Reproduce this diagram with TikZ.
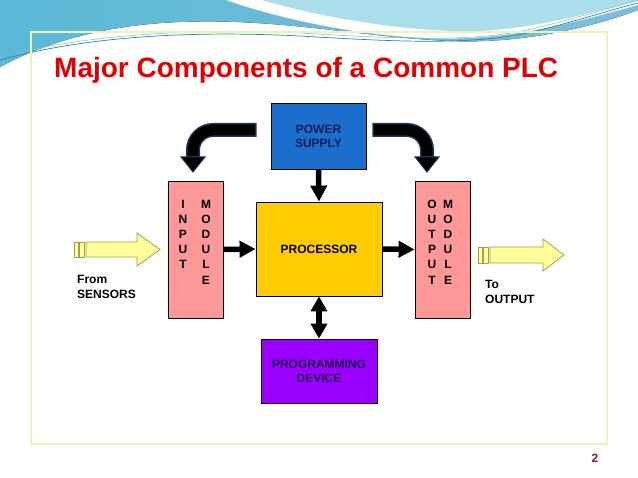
\documentclass[tikz,border=0pt]{standalone}
\usepackage{fontspec}
\setmainfont{Liberation Sans}
\usetikzlibrary{arrows.meta,calc}
\definecolor{titlered}{RGB}{226,0,0}
\definecolor{psblue}{RGB}{28,110,205}
\definecolor{pstext}{RGB}{10,30,90}
\definecolor{procyellow}{RGB}{255,204,0}
\definecolor{modpink}{RGB}{255,153,153}
\definecolor{pdpurple}{RGB}{153,0,255}
\definecolor{pdtext}{RGB}{40,0,80}
\definecolor{arrfill}{RGB}{255,255,153}
\definecolor{arrdraw}{RGB}{160,160,80}
\definecolor{framecol}{RGB}{236,244,180}
\definecolor{wavecyan}{RGB}{90,185,215}
\definecolor{waveblue}{RGB}{125,190,218}
\definecolor{wavelight}{RGB}{170,222,234}
\definecolor{waveline}{RGB}{40,135,170}
\definecolor{fatoutline}{RGB}{30,55,95}
\definecolor{pagenum}{RGB}{150,25,25}
\tikzset{
  box/.style={draw=black, line width=0.8pt, inner sep=0pt, align=center,
    font=\bfseries\fontsize{12}{13.8}\selectfont},
  letters/.style={inner sep=0pt, align=center, anchor=north,
    font=\bfseries\fontsize{12}{15.2}\selectfont},
  label/.style={inner sep=0pt, align=left, anchor=north west,
    font=\bfseries\fontsize{12}{14.6}\selectfont},
  conn/.style={line width=5.5pt, -{Triangle[width=16pt,length=16pt]}},
  dconn/.style={line width=5.5pt, {Triangle[width=16pt,length=15pt]}-{Triangle[width=16pt,length=15pt]}},
  fatout/.style={line width=14pt, fatoutline, rounded corners=20pt},
  fatin/.style={line width=11pt, black, rounded corners=20pt},
  fathead/.style={fill=black, draw=fatoutline, line width=1pt, line join=miter},
  yarrow/.style={fill=arrfill, draw=arrdraw, line width=0.8pt},
}
\begin{document}
\begin{tikzpicture}[x=1pt,y=-1pt]
\useasboundingbox (0,0) rectangle (638,478);
\fill[white] (0,0) rectangle (638,478);
% top wave
\fill[left color=wavecyan, right color=waveblue] (0,0) -- (638,0) -- (638,10)
  .. controls (590,28) and (520,44) .. (450,41)
  .. controls (360,37) and (280,18) .. (180,22)
  .. controls (100,25) and (40,45) .. (0,67) -- cycle;
\fill[white] (226,0) .. controls (300,26) and (400,42) .. (470,38)
  .. controls (540,34) and (600,15) .. (638,5) -- (638,0) -- cycle;
\fill[wavelight] (262,0) .. controls (330,20) and (420,33) .. (480,31)
  .. controls (540,28) and (600,10) .. (638,1) -- (638,0) -- cycle;
\draw[waveline, line width=0.7pt] (0,60) .. controls (80,38) and (180,30) .. (300,36)
  .. controls (400,42) and (480,46) .. (540,30) .. controls (580,20) and (610,10) .. (638,3);
\draw[waveline!60, line width=0.5pt] (0,57) .. controls (80,36) and (180,28) .. (300,33)
  .. controls (400,39) and (480,43) .. (540,27) .. controls (580,17) and (610,8) .. (638,0);
% frame
\draw[framecol, line width=2pt] (31,32) rectangle (607,444);
% title
\node[anchor=west, inner sep=0pt, text=titlered, font=\bfseries\fontsize{28}{32}\selectfont]
  (title) at (54,70) {Major Components of a Common PLC};
% boxes
\node[box, fill=psblue, text=pstext, minimum width=95pt, minimum height=66pt]
  (ps) at (318.5,136) {POWER\\SUPPLY};
\node[box, fill=procyellow, minimum width=126pt, minimum height=94pt]
  (proc) at (319,249) {PROCESSOR};
\node[box, fill=pdpurple, text=pdtext, minimum width=116pt, minimum height=64pt]
  (pd) at (319,371) {\fontsize{12}{15}\selectfont PROGRAMMING\\DEVICE};
\node[box, fill=modpink, minimum width=55pt, minimum height=137pt]
  (in) at (195.5,249.5) {};
\node[box, fill=modpink, minimum width=55pt, minimum height=137pt]
  (out) at (442.5,249.5) {};
\node[letters] (inA) at (183,199.6) {I\\N\\P\\U\\T};
\node[letters] (inB) at (206,199.6) {M\\O\\D\\U\\L\\E};
\node[letters] (outA) at (432,199.6) {O\\U\\T\\P\\U\\T};
\node[letters] (outB) at (448,199.6) {M\\O\\D\\U\\L\\E};
% straight connectors
\draw[conn] (ps.south) -- (proc.north);
\draw[conn] (in.east) -- (proc.west);
\draw[conn] (proc.east) -- (out.west);
\draw[dconn] (proc.south) -- (pd.north);
% curved fat arrows
\coordinate (ls) at ([xshift=-14pt,yshift=6pt]ps.west);
\coordinate (lb) at (193,157);
\coordinate (lt) at (193,172);
\coordinate (rs) at ([xshift=6pt,yshift=6pt]ps.east);
\coordinate (rb) at (427,157);
\coordinate (rt) at (427,172);
\draw[fatout] (ls) -| (lb);
\draw[fatin] ([xshift=-1.5pt]ls) -| ([yshift=1pt]lb);
\draw[fathead] ([xshift=-12pt]lb) -- ([xshift=12pt]lb) -- (lt) -- cycle;
\draw[fatout] (rs) -| (rb);
\draw[fatin] ([xshift=1.5pt]rs) -| ([yshift=1pt]rb);
\draw[fathead] ([xshift=-12pt]rb) -- ([xshift=12pt]rb) -- (rt) -- cycle;
% yellow arrows
\draw[yarrow] (74,242) rectangle (78,257);
\draw[yarrow] (79.5,242) rectangle (84,257);
\draw[yarrow] (86,242) -- (137,242) -- (137,233) -- (160,249.5) -- (137,266) -- (137,257) -- (86,257) -- cycle;
\draw[yarrow] (478,247) rectangle (482,263);
\draw[yarrow] (483.5,247) rectangle (488,263);
\draw[yarrow] (490,247) -- (543,247) -- (543,239) -- (564,255) -- (543,271) -- (543,263) -- (490,263) -- cycle;
% labels
\node[label] (from) at (77,275) {From\\SENSORS};
\node[label] (to) at (485,280) {To\\OUTPUT};
\node[inner sep=0pt, text=pagenum, font=\bfseries\fontsize{12}{14}\selectfont] (pg) at (595,458) {2};
\end{tikzpicture}
\end{document}
